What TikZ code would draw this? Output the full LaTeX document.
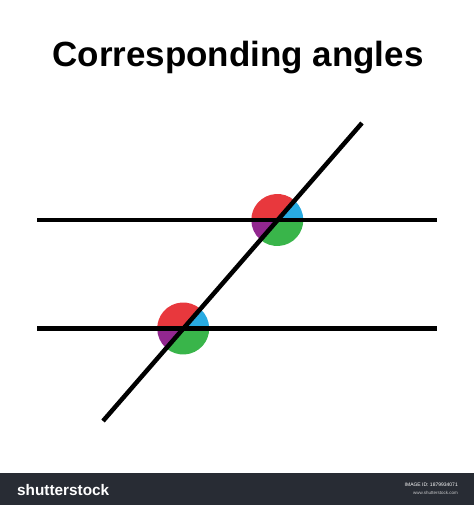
\documentclass[tikz,border=0pt]{standalone}
\usepackage{fontspec}
\setmainfont{Liberation Sans}
\usepackage{graphicx}
\definecolor{angred}{HTML}{E8383D}
\definecolor{angblue}{HTML}{29ABE2}
\definecolor{angpurple}{HTML}{92278F}
\definecolor{anggreen}{HTML}{39B54A}
\definecolor{barbg}{HTML}{282C34}
\tikzset{
  blackline/.style={line width=4.5pt, black},
  sector/.style={draw=none},
}
\newcommand{\anglemark}[1]{%
  \fill[angblue] (#1) -- ++(0:26) arc[start angle=0, end angle=49, radius=26] -- cycle;
  \fill[angred] (#1) -- ++(49:26) arc[start angle=49, end angle=180, radius=26] -- cycle;
  \fill[angpurple] (#1) -- ++(180:26) arc[start angle=180, end angle=229, radius=26] -- cycle;
  \fill[anggreen] (#1) -- ++(229:26) arc[start angle=229, end angle=360, radius=26] -- cycle;
}
\begin{document}
\begin{tikzpicture}[x=1pt,y=1pt]
\useasboundingbox (0,0) rectangle (474,505);
\fill[white] (0,0) rectangle (474,505);
% title
\node[anchor=base, inner sep=0pt] (title) at (238,438)
  {\resizebox{371pt}{!}{\bfseries Corresponding angles}};
% coordinates
\coordinate (h1l) at (37,285);
\coordinate (h1r) at (437,285);
\coordinate (h2l) at (37,176.5);
\coordinate (h2r) at (437,176.5);
\coordinate (tb) at (103,84);
\coordinate (tt) at (362,382);
\coordinate (p1) at (277.3,285);
\coordinate (p2) at (183.2,176.5);
% angle marks
\anglemark{p1}
\anglemark{p2}
% lines
\draw[blackline] (h1l) -- (h1r);
\draw[blackline] (h2l) -- (h2r);
\draw[blackline] (tb) -- (tt);
% bottom bar
\fill[barbg] (0,0) rectangle (474,32);
\node[anchor=west, inner sep=0pt, text=white] (logo) at (17,15)
  {\resizebox{92pt}{!}{\bfseries shutterstock}};
\node[anchor=east, inner sep=0pt, text=white, font=\fontsize{5}{6}\selectfont] (imgid) at (458,20) {IMAGE ID: 1879934071};
\node[anchor=east, inner sep=0pt, text=white!75!barbg, font=\fontsize{4.5}{5}\selectfont] (www) at (458,12) {www.shutterstock.com};
\end{tikzpicture}
\end{document}
